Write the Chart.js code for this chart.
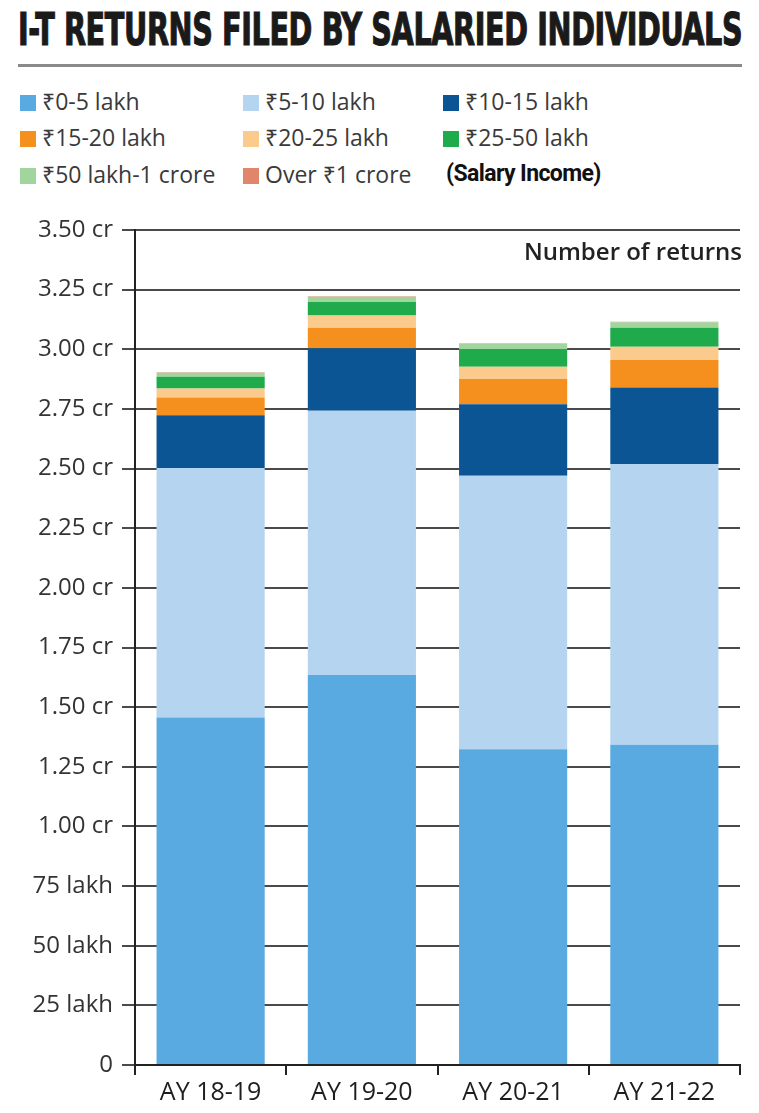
<!DOCTYPE html>
<html>
<head>
<meta charset="utf-8">
<script src="https://cdn.jsdelivr.net/npm/chart.js@4.4.1/dist/chart.umd.min.js"></script>
<style>
  html, body { margin: 0; padding: 0; background: #fff; }
  body { width: 759px; height: 1113px; position: relative; overflow: hidden; font-family: "Open Sans", "Noto Sans", sans-serif; }
  #title { position: absolute; left: 18px; top: 4px; white-space: nowrap; font-family: "Liberation Sans Narrow", "DejaVu Sans Condensed", "Liberation Sans", sans-serif; font-weight: bold; font-size: 45px; line-height: 52px; color: #1a1a1a; transform-origin: left top; letter-spacing: -0.5px; -webkit-text-stroke: 1.2px #1a1a1a; }
  #rule { position: absolute; left: 18px; top: 64px; width: 724px; height: 3px; background: #8a8a8a; }
  .lg { position: absolute; white-space: nowrap; font-size: 23px; line-height: 30px; color: #3a3a3a; }
  .lg i { display: inline-block; width: 16px; height: 16px; margin-right: 6px; vertical-align: -1px; }
  .lg.note { font-family: Roboto, sans-serif; font-weight: 700; color: #111; letter-spacing: -0.6px; font-size: 23px; }
  #wrap { position: absolute; left: 0; top: 200px; width: 759px; height: 913px; }
</style>
</head>
<body>
<div id="title">I-T RETURNS FILED BY SALARIED INDIVIDUALS</div>
<div id="rule"></div>
<div id="legend"></div>
<div id="wrap"><canvas id="chart"></canvas></div>
<script>
// values in crore returns
const years = ['AY 18-19', 'AY 19-20', 'AY 20-21', 'AY 21-22'];
const bandNames = ['₹0-5 lakh', '₹5-10 lakh', '₹10-15 lakh', '₹15-20 lakh', '₹20-25 lakh', '₹25-50 lakh', '₹50 lakh-1 crore', 'Over ₹1 crore'];
const bandColors = ['#58aae1', '#b5d4ef', '#0b5595', '#f5901f', '#fbcb8d', '#1faa4b', '#a2d49d', '#e0876b'];

const band0to5 = [1.457, 1.635, 1.323, 1.342];
const band5to10 = [1.045, 1.107, 1.147, 1.176];
const band10to15 = [0.222, 0.262, 0.300, 0.322];
const band15to20 = [0.074, 0.086, 0.105, 0.115];
const band20to25 = [0.038, 0.052, 0.052, 0.056];
const band25to50 = [0.049, 0.056, 0.074, 0.079];
const band50to100 = [0.017, 0.022, 0.021, 0.023];
const bandOver100 = [0.002, 0.002, 0.002, 0.002];

const bandValues = [band0to5, band5to10, band10to15, band15to20, band20to25, band25to50, band50to100, bandOver100];

const yMax = 3.5;
const yStep = 0.25;

function tickLabel(v) {
  if (v === 0) return '0';
  if (v >= 1) return v.toFixed(2) + ' cr';
  return Math.round(v * 100) + ' lakh';
}

// title fit to the rule width
const title = document.getElementById('title');
title.style.transform = 'scaleX(' + (724 / title.offsetWidth) + ')';

// legend, 3 columns
const legend = document.getElementById('legend');
const colX = [20, 243, 443];
const rowY = [86, 122, 159];
bandNames.forEach((name, i) => {
  const d = document.createElement('div');
  d.className = 'lg';
  d.style.left = colX[i % 3] + 'px';
  d.style.top = rowY[Math.floor(i / 3)] + 'px';
  d.innerHTML = '<i style="background:' + bandColors[i] + '"></i>' + name;
  legend.appendChild(d);
});
const note = document.createElement('div');
note.className = 'lg note';
note.style.left = '446px';
note.style.top = rowY[2] + 'px';
note.textContent = '(Salary Income)';
legend.appendChild(note);

const cornerLabel = {
  id: 'cornerLabel',
  afterDraw(chart) {
    const { ctx, chartArea } = chart;
    ctx.save();
    ctx.font = '600 24px "Open Sans", sans-serif';
    ctx.fillStyle = '#222';
    ctx.textAlign = 'right';
    ctx.textBaseline = 'middle';
    ctx.fillText('Number of returns', chartArea.right + 2, chartArea.top + 23);
    ctx.restore();
  }
};

new Chart(document.getElementById('chart'), {
  type: 'bar',
  data: {
    labels: years,
    datasets: bandNames.map((name, i) => ({
      label: name,
      data: bandValues[i],
      backgroundColor: bandColors[i],
      borderWidth: 0,
      barPercentage: 0.715,
      categoryPercentage: 1.0
    }))
  },
  options: {
    responsive: true,
    maintainAspectRatio: false,
    animation: false,
    layout: { padding: { top: 30, right: 19, bottom: 0, left: 0 } },
    plugins: {
      legend: { display: false },
      tooltip: { enabled: false }
    },
    scales: {
      x: {
        stacked: true,
        z: 1,
        afterFit: (scale) => { scale.height = 48; },
        grid: { display: true, drawOnChartArea: false, offset: true, tickLength: 10, color: '#222', lineWidth: 2 },
        border: { display: true, color: '#222', width: 2 },
        ticks: { color: '#1e1e1e', padding: 3, font: { family: 'Open Sans', size: 25, weight: '500' } }
      },
      y: {
        stacked: true,
        min: 0,
        max: yMax,
        afterFit: (scale) => { scale.width = 135; },
        grid: { color: '#4a4a4a', lineWidth: 2, tickLength: 13 },
        border: { display: true, color: '#222', width: 2 },
        ticks: {
          stepSize: yStep,
          color: '#333',
          padding: 9,
          font: { family: 'Open Sans', size: 24, weight: '400' },
          callback: (v) => tickLabel(v)
        }
      }
    }
  },
  plugins: [cornerLabel]
});
</script>
</body>
</html>
